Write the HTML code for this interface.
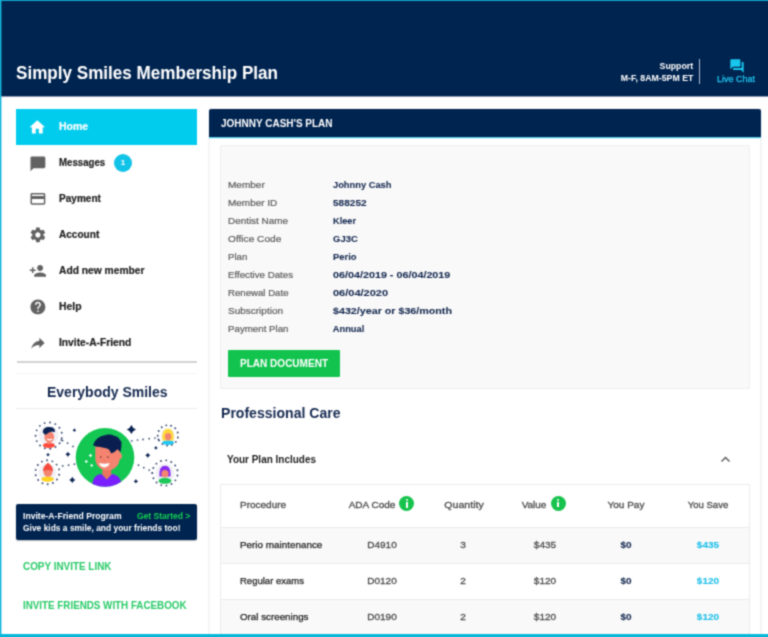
<!DOCTYPE html>
<html lang="en"><head>
<meta charset="utf-8">
<title>Simply Smiles Membership Plan</title>
<style>
*{box-sizing:border-box;margin:0;padding:0}
html,body{width:768px;height:637px;overflow:hidden;background:#fff}
body{font-family:"Liberation Sans",sans-serif;position:relative;color:#333;font-size:11px}
#wrap{position:absolute;left:-8px;top:-8px;width:784px;height:653px;overflow:hidden;background:#fff;filter:url(#soft)}
#in{position:absolute;left:8px;top:8px;width:768px;height:637px}
.t{position:absolute;white-space:nowrap;transform-origin:0 50%}
.t.r{transform-origin:100% 50%}
.t.c{transform-origin:50% 50%}
#fl{position:absolute;left:-8px;top:-8px;width:9px;height:653px;background:#14b6d9;z-index:50}
#fl2{position:absolute;left:1px;top:-8px;width:1px;height:653px;background:rgba(20,182,217,.4);z-index:50}
#ft{position:absolute;left:-8px;top:-8px;width:784px;height:9px;background:#12a3c8;z-index:50}
#fb{position:absolute;left:-8px;top:634px;width:784px;height:11px;background:#08b8da;z-index:50}
#hdr{position:absolute;left:-8px;top:-8px;width:784px;height:104px;background:#002450}
#hdr2{position:absolute;left:-8px;top:96px;width:784px;height:1px;background:#8995ab}
#title{left:16px;top:61.400px;font-size:18px;line-height:24px;font-weight:bold;color:#fff}
.sup{right:75px;color:#fff;font-size:8.400px;line-height:12px;font-weight:bold}
#vdiv{position:absolute;left:699px;top:59px;width:1px;height:25px;background:#b4c0d4}
#chat{position:absolute;left:729px;top:57.800px;width:16px;height:16px}
#chatt{left:717px;top:73px;color:#1fcaf2;-webkit-text-stroke:0.250px #1fcaf2;font-size:8.600px;line-height:12px}
/* sidebar */
.mi{position:absolute;left:16px;width:181px;height:36px}
.mi.act{background:#02ccee;top:109px;height:35px;border-bottom:1px solid rgba(2,204,238,.4);box-sizing:content-box}
.mt{left:59px;color:#1e1e1e;-webkit-text-stroke:0.200px;font-weight:bold;font-size:10.400px;line-height:14px}
.ic{position:absolute;left:28.600px;width:17.800px;height:17.800px;fill:#626262}
#badge{position:absolute;left:114px;top:153.500px;width:18px;height:18px;border-radius:50%;background:#12c3e8;color:#fff;font-size:8px;line-height:18px;text-align:center;font-weight:bold}
#sdiv{position:absolute;left:17px;top:361px;width:180px;height:2px;background:#d2d2d2}
#sdiv0{position:absolute;left:16px;top:373px;width:181px;height:1px;background:#f3f3f3}
#es{left:46.500px;top:380.500px;font-size:14.500px;line-height:22px;font-weight:bold;color:#14284f}
#sdiv2{position:absolute;left:16px;top:408px;width:181px;height:1px;background:#ebebeb}
#ill{position:absolute;left:16px;top:410px;width:181px;height:90px}
#ban{position:absolute;left:16px;top:504px;width:181px;height:36px;background:#002450;border-radius:2px;box-shadow:0 1px 1.500px rgba(0,0,0,.25)}
.bt{color:#fff;font-size:8.400px;line-height:12px;font-weight:bold}
.gl{left:22.500px;color:#27ca66;font-size:10px;line-height:14px;font-weight:bold}
/* main */
#panel{position:absolute;left:210px;top:110px;width:550px;height:540px;background:#fff;box-shadow:0 0 3px 1px rgba(0,0,0,.08)}
#ph{position:absolute;left:209px;top:109px;width:552.400px;height:29px;background:#002450;border-bottom:1px solid #4fcfec;box-shadow:0 1px 0 rgba(79,207,236,.25);border-radius:2px 2px 0 0}
#pht{left:220.500px;top:116.800px;color:#fff;font-size:10.300px;font-weight:bold;line-height:14px}
#card{position:absolute;left:220px;top:145px;width:530px;height:244px;background:#f9f9f9;border:1px solid #eee;border-radius:2px}
.lb{left:227.600px;font-size:9.300px;-webkit-text-stroke:0.200px #5c5c5c;line-height:18px;color:#5c5c5c}
.vl{left:332.800px;font-size:9.300px;line-height:18px;color:#14284f;font-weight:bold;-webkit-text-stroke:0.080px #14284f}
#btn{position:absolute;left:228px;top:350px;width:112px;height:27px;background:#12c44e;border-radius:1px}
#btnt{left:240.200px;top:356.800px;color:#fff;font-weight:bold;font-size:10.300px;line-height:14px}
#pc{left:221px;top:402.200px;font-size:14.700px;line-height:22px;font-weight:bold;color:#14284f}
#ypi{left:227px;top:452.600px;font-size:10.400px;line-height:14px;font-weight:bold;color:#1e1e1e}
#chev{position:absolute;left:720px;top:454px;width:11px;height:11px}
#tbl{position:absolute;left:220px;top:484px;width:530px;height:160px;border:1px solid #ececec;background:#fff}
.tr{position:absolute;left:0;width:528px;height:36px;border-top:1px solid #ececec}
.tr.g{background:#f9f9f9}
.th,.td,.tp{font-size:9.400px;line-height:14px;color:#4c4c4c;-webkit-text-stroke:0.300px #4c4c4c}
.tp{color:#1e1e1e;-webkit-text-stroke:0.250px #1e1e1e}
.c{text-align:center;width:80px}
.pay{color:#14284f;font-weight:bold;-webkit-text-stroke:0.100px #14284f}
.sav{color:#1cbfe9;font-weight:bold;-webkit-text-stroke:0.100px #1cbfe9}
.info{position:absolute;width:15px;height:15px;border-radius:50%;background:#17c34c}
.info:before{content:"";position:absolute;left:6.500px;top:3px;width:2px;height:2px;background:#fff;border-radius:1px}
.info:after{content:"";position:absolute;left:6.500px;top:6.300px;width:2px;height:5.500px;background:#fff}
</style>
</head>
<body>
<svg width="0" height="0" style="position:absolute"><filter id="soft" x="0" y="0" width="100%" height="100%" color-interpolation-filters="sRGB"><feConvolveMatrix order="3" kernelMatrix="0.0400 0.1200 0.0400 0.1200 0.3600 0.1200 0.0400 0.1200 0.0400" edgeMode="duplicate" preserveAlpha="true"></feConvolveMatrix></filter></svg>
<div id="wrap"><div id="in">
<div id="hdr"></div><div id="hdr2"></div>
<div class="t" id="title" style="transform: scaleX(0.949);">Simply Smiles Membership Plan</div>
<div class="t r sup" style="top: 59.6px; transform: scaleX(1.043);">Support</div>
<div class="t r sup" style="top: 71.6px; transform: scaleX(1.046);">M-F, 8AM-5PM ET</div>
<div id="vdiv"></div>
<svg id="chat" viewBox="0 0 24 24"><path fill="#19c6ee" d="M21 6h-2v9H6v2c0 .55.45 1 1 1h11l4 4V7c0-.55-.45-1-1-1zm-4 6V3c0-.55-.45-1-1-1H3c-.55 0-1 .45-1 1v14l4-4h10c.55 0 1-.45 1-1z"></path></svg>
<div class="t" id="chatt" style="transform: scaleX(1.046);">Live Chat</div>

<div class="mi act"></div>
<svg class="ic" style="top:117.500px;fill:#fff;left:28.200px;width:18.600px;height:18.600px" viewBox="0 0 24 24"><path d="M10 20v-6h4v6h5v-8h3L12 3 2 12h3v8z"></path></svg>
<div class="t mt" style="top: 119.9px; color: rgb(255, 255, 255); transform: scaleX(1.004);">Home</div>
<svg class="ic" style="top:154.600px" viewBox="0 0 24 24"><path d="M20 2H4c-1.100 0-1.990.9-1.990 2L2 22l4-4h14c1.100 0 2-.9 2-2V4c0-1.100-.9-2-2-2z"></path></svg>
<div class="t mt" style="top: 155.9px; transform: scaleX(0.93);">Messages</div>
<div id="badge">1</div>
<svg class="ic" style="top:190.100px" viewBox="0 0 24 24"><path d="M20 4H4c-1.110 0-1.990.89-1.990 2L2 18c0 1.110.89 2 2 2h16c1.110 0 2-.89 2-2V6c0-1.110-.89-2-2-2zm0 14H4v-6h16v6zm0-10H4V6h16v2z"></path></svg>
<div class="t mt" style="top: 191.9px; transform: scaleX(0.969);">Payment</div>
<svg class="ic" style="top:226.100px" viewBox="0 0 24 24"><path d="M19.430 12.980c.04-.32.070-.64.070-.98s-.03-.66-.07-.98l2.110-1.650c.19-.15.240-.42.120-.64l-2-3.460c-.12-.22-.39-.3-.61-.22l-2.490 1c-.52-.4-1.080-.73-1.690-.98l-.38-2.650C14.460 2.180 14.250 2 14 2h-4c-.25 0-.46.180-.49.420l-.38 2.650c-.61.250-1.170.59-1.690.98l-2.490-1c-.23-.09-.49 0-.61.220l-2 3.460c-.13.220-.07.490.12.640l2.110 1.650c-.04.320-.07.650-.07.980s.03.660.07.980l-2.110 1.650c-.19.150-.24.420-.12.640l2 3.460c.12.220.39.300.61.220l2.490-1c.52.400 1.080.73 1.690.98l.38 2.650c.03.240.24.420.49.420h4c.25 0 .46-.18.490-.42l.38-2.650c.61-.25 1.170-.59 1.690-.98l2.490 1c.23.090.49 0 .61-.22l2-3.460c.12-.22.070-.49-.12-.64l-2.110-1.650zM12 15.500c-1.930 0-3.500-1.570-3.500-3.500s1.570-3.500 3.500-3.500 3.500 1.570 3.500 3.500-1.570 3.500-3.500 3.500z"></path></svg>
<div class="t mt" style="top: 227.9px; transform: scaleX(0.969);">Account</div>
<svg class="ic" style="top:262.100px" viewBox="0 0 24 24"><path d="M15 12c2.210 0 4-1.790 4-4s-1.790-4-4-4-4 1.790-4 4 1.790 4 4 4zm-9-2V7H4v3H1v2h3v3h2v-3h3v-2H6zm9 4c-2.670 0-8 1.340-8 4v2h16v-2c0-2.660-5.330-4-8-4z"></path></svg>
<div class="t mt" style="top: 263.9px; transform: scaleX(0.987);">Add new member</div>
<svg class="ic" style="top:298.100px" viewBox="0 0 24 24"><path d="M12 2C6.480 2 2 6.480 2 12s4.480 10 10 10 10-4.480 10-10S17.520 2 12 2zm1 17h-2v-2h2v2zm2.070-7.750l-.9.920C13.450 12.900 13 13.500 13 15h-2v-.5c0-1.100.45-2.100 1.170-2.830l1.240-1.260c.37-.36.590-.86.590-1.410 0-1.100-.9-2-2-2s-2 .9-2 2H8c0-2.210 1.790-4 4-4s4 1.790 4 4c0 .88-.36 1.680-.93 2.250z"></path></svg>
<div class="t mt" style="top: 299.9px; transform: scaleX(0.999);">Help</div>
<svg class="ic" style="top:334.100px" viewBox="0 0 24 24"><path d="M14 9V5l7 7-7 7v-4.100c-5 0-8.500 1.600-11 5.100 1-5 4-10 11-11z"></path></svg>
<div class="t mt" style="top: 335.9px; transform: scaleX(0.986);">Invite-A-Friend</div>
<div id="sdiv"></div>
<div id="sdiv0"></div>
<div class="t" id="es" style="transform: scaleX(0.965);">Everybody Smiles</div>
<div id="sdiv2"></div>
<svg id="ill" viewBox="16 410 181 90" width="181" height="90"><g fill="#34446c"><circle cx="61.74" cy="438.22" r="0.95"></circle><circle cx="59.55" cy="443.26" r="0.95"></circle><circle cx="55.51" cy="446.97" r="0.95"></circle><circle cx="50.30" cy="448.71" r="0.95"></circle><circle cx="44.84" cy="448.19" r="0.95"></circle><circle cx="40.06" cy="445.49" r="0.95"></circle><circle cx="36.79" cy="441.08" r="0.95"></circle><circle cx="35.60" cy="435.72" r="0.95"></circle><circle cx="36.69" cy="430.35" r="0.95"></circle><circle cx="39.88" cy="425.87" r="0.95"></circle><circle cx="44.60" cy="423.09" r="0.95"></circle><circle cx="50.06" cy="422.46" r="0.95"></circle><circle cx="55.29" cy="424.11" r="0.95"></circle><circle cx="59.41" cy="427.74" r="0.95"></circle><circle cx="61.69" cy="432.73" r="0.95"></circle></g><circle cx="48.8" cy="435.6" r="10.0" fill="#f1f1f6"></circle><ellipse cx="48.9" cy="445.4" rx="6" ry="2.7" fill="#ff4a3d"></ellipse><rect x="47.4" y="440" width="3.2" height="4" fill="#f4846f"></rect><ellipse cx="49.3" cy="437" rx="4.9" ry="5.6" fill="#f4846f"></ellipse><path d="M42.900 432.500C42.500 428 47 426.300 50.500 427.200C53.500 426.800 55.600 429.500 54.800 432.200C52 431.400 49.500 431.800 47.500 433.500C46.500 434.600 45.800 434.800 44.600 434.500Z" fill="#0b2253"></path><path d="M47.200 439.200Q49.700 441.200 52.400 439.200Q49.800 440 47.200 439.200Z" fill="#fff" stroke="#fff" stroke-width="0.800"></path><g fill="#34446c"><circle cx="59.16" cy="474.68" r="0.95"></circle><circle cx="56.96" cy="479.55" r="0.95"></circle><circle cx="52.87" cy="482.98" r="0.95"></circle><circle cx="47.69" cy="484.30" r="0.95"></circle><circle cx="42.46" cy="483.24" r="0.95"></circle><circle cx="38.20" cy="480.01" r="0.95"></circle><circle cx="35.77" cy="475.25" r="0.95"></circle><circle cx="35.64" cy="469.92" r="0.95"></circle><circle cx="37.84" cy="465.05" r="0.95"></circle><circle cx="41.93" cy="461.62" r="0.95"></circle><circle cx="47.11" cy="460.30" r="0.95"></circle><circle cx="52.34" cy="461.36" r="0.95"></circle><circle cx="56.60" cy="464.59" r="0.95"></circle><circle cx="59.03" cy="469.35" r="0.95"></circle></g><circle cx="47.4" cy="472.3" r="8.8" fill="#f1f1f6"></circle><ellipse cx="47.600" cy="479.200" rx="6.200" ry="2.700" fill="#ffd321"></ellipse><ellipse cx="48" cy="472" rx="4.500" ry="4.800" fill="#f4846f"></ellipse><path d="M43.200 471.500C42.800 467 45.500 465 48 462.800C50.500 465 53.400 467 52.900 471.500C50 469.500 46 469.500 43.200 471.500Z" fill="#f5493c"></path><g fill="#34446c"><circle cx="177.90" cy="437.43" r="0.95"></circle><circle cx="175.81" cy="441.84" r="0.95"></circle><circle cx="171.91" cy="444.78" r="0.95"></circle><circle cx="167.09" cy="445.57" r="0.95"></circle><circle cx="162.46" cy="444.03" r="0.95"></circle><circle cx="159.07" cy="440.51" r="0.95"></circle><circle cx="157.71" cy="435.82" r="0.95"></circle><circle cx="158.68" cy="431.04" r="0.95"></circle><circle cx="161.76" cy="427.25" r="0.95"></circle><circle cx="166.25" cy="425.33" r="0.95"></circle><circle cx="171.12" cy="425.72" r="0.95"></circle><circle cx="175.25" cy="428.32" r="0.95"></circle><circle cx="177.69" cy="432.55" r="0.95"></circle></g><circle cx="167.9" cy="435.4" r="7.0" fill="#f1f1f6"></circle><ellipse cx="168.200" cy="442.600" rx="6" ry="2.400" fill="#23c6f2"></ellipse><path d="M162.300 440.500C161.800 433 163.500 428.800 168 428.800C172.500 428.800 174 433 173.600 440.500Z" fill="#ffd93b"></path><ellipse cx="168.100" cy="436.600" rx="3.300" ry="3.600" fill="#f4846f"></ellipse><g fill="#34446c"><circle cx="177.45" cy="475.52" r="0.95"></circle><circle cx="175.34" cy="480.37" r="0.95"></circle><circle cx="171.45" cy="483.94" r="0.95"></circle><circle cx="166.45" cy="485.62" r="0.95"></circle><circle cx="161.19" cy="485.11" r="0.95"></circle><circle cx="156.59" cy="482.52" r="0.95"></circle><circle cx="153.45" cy="478.27" r="0.95"></circle><circle cx="152.30" cy="473.12" r="0.95"></circle><circle cx="153.35" cy="467.94" r="0.95"></circle><circle cx="156.41" cy="463.64" r="0.95"></circle><circle cx="160.96" cy="460.96" r="0.95"></circle><circle cx="166.21" cy="460.36" r="0.95"></circle><circle cx="171.25" cy="461.94" r="0.95"></circle><circle cx="175.20" cy="465.44" r="0.95"></circle><circle cx="177.40" cy="470.24" r="0.95"></circle></g><circle cx="165" cy="473" r="9.5" fill="#f1f1f6"></circle><ellipse cx="165" cy="480.800" rx="6.500" ry="3" fill="#1fc75a"></ellipse><path d="M159.500 476.500C159 469 161 465.800 165 465.800C169 465.800 171 469 170.500 476.500Z" fill="#8a2cf0"></path><ellipse cx="165" cy="473.800" rx="3.600" ry="3.700" fill="#f4846f"></ellipse><g fill="#34446c"><circle cx="61.3" cy="440" r="0.85"></circle><circle cx="62.6" cy="440.6" r="0.85"></circle><circle cx="67.6" cy="443.2" r="0.85"></circle><circle cx="73" cy="446.4" r="0.85"></circle><circle cx="62.7" cy="465.9" r="0.85"></circle><circle cx="68.6" cy="465.2" r="0.85"></circle><circle cx="74.4" cy="464.2" r="0.85"></circle></g><g fill="#34446c"><circle cx="131.8" cy="440.8" r="0.85"></circle><circle cx="137.5" cy="440" r="0.85"></circle><circle cx="143.1" cy="439.4" r="0.85"></circle><circle cx="149.2" cy="438.7" r="0.85"></circle><circle cx="154.9" cy="438" r="0.85"></circle><circle cx="158.4" cy="439.4" r="0.85"></circle><circle cx="138.5" cy="465.2" r="0.85"></circle><circle cx="143.8" cy="467.7" r="0.85"></circle><circle cx="149.2" cy="470.1" r="0.85"></circle><circle cx="152.3" cy="472.9" r="0.85"></circle></g><path fill="#0b2253" d="M74.4 428.3Q74.93 429.67 76.30000000000001 430.2Q74.93 430.73 74.4 432.09999999999997Q73.87 430.73 72.5 430.2Q73.87 429.67 74.4 428.3Z"></path><path fill="#0b2253" d="M67.9 451.7Q68.63 453.57 70.5 454.3Q68.63 455.03 67.9 456.90000000000003Q67.17 455.03 65.30000000000001 454.3Q67.17 453.57 67.9 451.7Z"></path><path fill="#0b2253" d="M48 452.8Q48.53 454.17 49.9 454.7Q48.53 455.23 48 456.59999999999997Q47.47 455.23 46.1 454.7Q47.47 454.17 48 452.8Z"></path><path fill="#0b2253" d="M72.3 476.79999999999995Q73.17 479.03 75.39999999999999 479.9Q73.17 480.77 72.3 483.0Q71.43 480.77 69.2 479.9Q71.43 479.03 72.3 476.79999999999995Z"></path><path fill="#0b2253" d="M131.4 424.9Q132.69 428.21 136.0 429.5Q132.69 430.79 131.4 434.1Q130.11 430.79 126.80000000000001 429.5Q130.11 428.21 131.4 424.9Z"></path><path fill="#0b2253" d="M147.8 452.7Q148.53 454.57 150.4 455.3Q148.53 456.03 147.8 457.90000000000003Q147.07 456.03 145.20000000000002 455.3Q147.07 454.57 147.8 452.7Z"></path><path fill="#0b2253" d="M155.9 446.09999999999997Q156.40 447.40 157.70000000000002 447.9Q156.40 448.40 155.9 449.7Q155.40 448.40 154.1 447.9Q155.40 447.40 155.9 446.09999999999997Z"></path><path fill="#0b2253" d="M135.9 479.0Q136.54 480.66 138.20000000000002 481.3Q136.54 481.94 135.9 483.6Q135.26 481.94 133.6 481.3Q135.26 480.66 135.9 479.0Z"></path><clipPath id="mc"><circle cx="105" cy="457.400" r="29.300"></circle></clipPath><circle cx="105" cy="457.400" r="29.300" fill="#13c752"></circle><g clip-path="url(#mc)"><path d="M92 490C92 478 95.500 474.600 101.500 474L106.800 479.500L111.500 474C117.500 474.600 122 478 122 490Z" fill="#7a20ff"></path><path d="M102.300 466L102.300 474.500L106.800 479.500L111.300 474.500L111.300 466Z" fill="#ea7460"></path><ellipse cx="120" cy="456" rx="2" ry="3" fill="#f4846f"></ellipse><path d="M95.300 446C95.300 441 119.800 441 119.800 447L119.800 457.500C119.800 465 114.500 470.500 107.500 470.500C100.500 470.500 95.300 465.500 95.300 458Z" fill="#f4846f"></path><path d="M93.100 445.300C94.500 440 99.500 436 104 435.500C107 433.900 112 434 115 436C117 436.400 119 437.500 119.600 439.500L121.400 441.800C121.700 445 121.200 449 120.500 452L117.300 449.300L114.800 451.800L111.300 453.600L109 449.600L106.300 448.200C103 447.500 99 446.800 96.400 446.800Z" fill="#0a1f50"></path><circle cx="100.800" cy="457" r="0.850" fill="#7a2f33"></circle><circle cx="107.900" cy="457" r="0.850" fill="#7a2f33"></circle><path d="M103.300 459.500Q104.200 461.200 105.300 460.200" fill="none" stroke="#e06f5f" stroke-width="0.800"></path><path d="M99 463.100Q104.300 464.300 109.700 463.100Q108.500 467.400 104.300 467.400Q100.200 467.400 99 463.100Z" fill="#fff"></path></g><path fill="#fff" d="M90.5 453.6Q91.03 454.97 92.4 455.5Q91.03 456.03 90.5 457.4Q89.97 456.03 88.6 455.5Q89.97 454.97 90.5 453.6Z"></path><path fill="#fff" d="M86.3 459.8Q86.78 461.02 88.0 461.5Q86.78 461.98 86.3 463.2Q85.82 461.98 84.6 461.5Q85.82 461.02 86.3 459.8Z"></path><path fill="#fff" d="M91.7 463.79999999999995Q92.15 464.95 93.3 465.4Q92.15 465.85 91.7 467.0Q91.25 465.85 90.10000000000001 465.4Q91.25 464.95 91.7 463.79999999999995Z"></path></svg>
<div id="ban"></div>
<div class="t bt" style="left: 22.5px; top: 510px; transform: scaleX(1.028);">Invite-A-Friend Program</div>
<div class="t r bt" style="right: 577.5px; top: 510px; color: rgb(20, 207, 82); transform: scaleX(1.021);">Get Started &gt;</div>
<div class="t bt" style="left: 22.5px; top: 522px; transform: scaleX(1.007);">Give kids a smile, and your friends too!</div>
<div class="t gl" style="top: 559.7px; transform: scaleX(0.991);">COPY INVITE LINK</div>
<div class="t gl" style="top: 598.9px; transform: scaleX(0.981);">INVITE FRIENDS WITH FACEBOOK</div>

<div id="panel"></div>
<div id="ph"></div>
<div class="t" id="pht" style="transform: scaleX(0.97);">JOHNNY CASH'S PLAN</div>
<div id="card"></div>
<div class="t lb" style="top: 175.95px; transform: scaleX(1.079);">Member</div><div class="t vl" style="top: 175.95px; transform: scaleX(1.002);">Johnny Cash</div>
<div class="t lb" style="top: 193.95px; transform: scaleX(1.072);">Member ID</div><div class="t vl" style="top: 193.95px; transform: scaleX(1.083);">588252</div>
<div class="t lb" style="top: 211.95px; transform: scaleX(1.065);">Dentist Name</div><div class="t vl" style="top: 211.95px; transform: scaleX(0.989);">Kleer</div>
<div class="t lb" style="top: 229.95px; transform: scaleX(1.089);">Office Code</div><div class="t vl" style="top: 229.95px; transform: scaleX(1.021);">GJ3C</div>
<div class="t lb" style="top: 247.95px; transform: scaleX(1.037);">Plan</div><div class="t vl" style="top: 247.95px; transform: scaleX(1.01);">Perio</div>
<div class="t lb" style="top: 265.95px; transform: scaleX(1.042);">Effective Dates</div><div class="t vl" style="top: 265.95px; transform: scaleX(1.158);">06/04/2019 - 06/04/2019</div>
<div class="t lb" style="top: 283.95px; transform: scaleX(1.036);">Renewal Date</div><div class="t vl" style="top: 283.95px; transform: scaleX(1.182);">06/04/2020</div>
<div class="t lb" style="top: 301.95px; transform: scaleX(1.075);">Subscription</div><div class="t vl" style="top: 301.95px; transform: scaleX(1.151);">$432/year or $36/month</div>
<div class="t lb" style="top: 319.95px; transform: scaleX(1.045);">Payment Plan</div><div class="t vl" style="top: 319.95px; transform: scaleX(1);">Annual</div>
<div id="btn"></div>
<div class="t" id="btnt" style="transform: scaleX(0.974);">PLAN DOCUMENT</div>
<div class="t" id="pc" style="transform: scaleX(0.957);">Professional Care</div>
<div class="t" id="ypi" style="transform: scaleX(0.959);">Your Plan Includes</div>
<svg id="chev" viewBox="0 0 11 11"><path d="M1.500 7.500 L5.500 3.500 L9.500 7.500" fill="none" stroke="#555" stroke-width="1.400"></path></svg>
<div id="tbl">
  <div class="tr g" style="top:42px"></div>
  <div class="tr" style="top:78px"></div>
  <div class="tr g" style="top:114px"></div>
</div>
<div class="t th" style="left: 240px; top: 497.6px; transform: scaleX(1.066);">Procedure</div>
<div class="t c th" style="left: 332px; top: 497.6px; transform: scaleX(1.067);">ADA Code</div>
<div class="t c th" style="left: 423.5px; top: 497.6px; transform: scaleX(1.131);">Quantity</div>
<div class="t c th" style="left: 494.4px; top: 497.6px; transform: scaleX(1.057);">Value</div>
<div class="t c th" style="left: 586px; top: 497.6px; transform: scaleX(1.067);">You Pay</div>
<div class="t c th" style="left: 667.8px; top: 497.6px; transform: scaleX(1.018);">You Save</div>
<div class="info" style="left:399px;top:496px"></div><div class="info" style="left:550.500px;top:495.500px"></div>

<div class="t tp" style="left: 240px; top: 537.7px; transform: scaleX(1.053);">Perio maintenance</div>
<div class="t c td" style="left: 342px; top: 537.7px; transform: scaleX(1.067);">D4910</div>
<div class="t c td" style="left: 423px; top: 537.7px; transform: scaleX(1.073);">3</div>
<div class="t c td" style="left: 504.7px; top: 537.7px; transform: scaleX(1.069);">$435</div>
<div class="t c td pay" style="left: 586px; top: 537.7px; transform: scaleX(1.063);">$0</div>
<div class="t c td sav" style="left: 667.7px; top: 537.7px; transform: scaleX(1.069);">$435</div>

<div class="t tp" style="left: 240px; top: 573.7px; transform: scaleX(1.015);">Regular exams</div>
<div class="t c td" style="left: 342px; top: 573.7px; transform: scaleX(1.067);">D0120</div>
<div class="t c td" style="left: 423px; top: 573.7px; transform: scaleX(1.073);">2</div>
<div class="t c td" style="left: 504.7px; top: 573.7px; transform: scaleX(1.069);">$120</div>
<div class="t c td pay" style="left: 586px; top: 573.7px; transform: scaleX(1.063);">$0</div>
<div class="t c td sav" style="left: 667.7px; top: 573.7px; transform: scaleX(1.069);">$120</div>

<div class="t tp" style="left: 240px; top: 609.7px; transform: scaleX(1.043);">Oral screenings</div>
<div class="t c td" style="left: 342px; top: 609.7px; transform: scaleX(1.067);">D0190</div>
<div class="t c td" style="left: 423px; top: 609.7px; transform: scaleX(1.073);">2</div>
<div class="t c td" style="left: 504.7px; top: 609.7px; transform: scaleX(1.069);">$120</div>
<div class="t c td pay" style="left: 586px; top: 609.7px; transform: scaleX(1.063);">$0</div>
<div class="t c td sav" style="left: 667.7px; top: 609.7px; transform: scaleX(1.069);">$120</div>
<div id="ft"></div><div id="fl"></div><div id="fl2"></div><div id="fb"></div>
</div></div>


</body></html>
